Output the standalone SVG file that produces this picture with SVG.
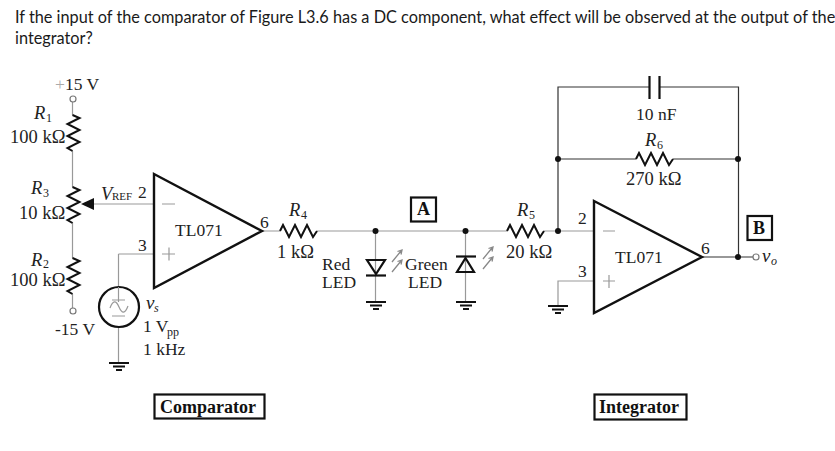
<svg xmlns="http://www.w3.org/2000/svg" width="835" height="451" viewBox="0 0 835 451">
<style>
.t{font-family:"Liberation Serif","Times New Roman",serif;font-size:17.500px;fill:#222}
.k{font-size:18.500px}
.s{font-size:12px}
.r{font-size:11px}
.i{font-style:italic}
.v{font-size:19px}
.b{font-weight:bold;font-size:18px;fill:#111}
.q{font-family:Lato,"Open Sans",sans-serif;font-size:16.300px;fill:#1a1a1a}
.w{fill:none;stroke:#999;stroke-width:1.200}
.d{fill:none;stroke:#333;stroke-width:1.200}
.z{fill:none;stroke:#111;stroke-width:2}
.amp{fill:#fff;stroke:#111;stroke-width:2.400;stroke-linejoin:miter}
.box{fill:#fff;stroke:#111;stroke-width:2.200}
.dot{fill:#111}
.oc{fill:#fff;stroke:#777;stroke-width:1.200}
.led{fill:none;stroke:#888;stroke-width:1.300}
</style>
<defs>
<g id="gnd"><path d="M-10 0H10M-6 3.500H6M-3 7H3" fill="none" stroke="#111" stroke-width="1.800"/></g>
<polyline id="rv" points="0,0 7,3 -5,9 7,15 -5,21 7,27 -5,33 0,36" class="z"/>
<polyline id="rh" points="0,0 3,-6 9,6 15,-6 21,6 27,-6 33,6 37,0" class="z"/>
<g id="rays"><path d="M0 12L9 1M5.500 1.500L10 0L9 4.500M0 22L9 11M5.500 11.500L10 10L9 14.500" class="led"/></g>
</defs>

<g id="question">
<text class="q" x="15" y="23">If the input of the comparator of Figure L3.6 has a DC component, what effect will be observed at the output of the</text>
<text class="q" x="15" y="44">integrator?</text>
</g>

<g id="connectors">
<path class="w" d="M72.500 102V115M72.500 151V187M72.500 222V258M72.500 294V308"/>
<path class="w" d="M86 204H154M118.500 254H154M118.500 254V287M118.500 327V362"/>
<path class="w" d="M262 231H280M317 231H507M375.500 231V301M465.500 231V301M544 231H594"/>
<path class="d" d="M558 231V87H649M659 87H738.500V257M558 159H636M673 159H738.500M702 257H753"/>
<path class="w" d="M594 281H558V306"/>
</g>

<g id="supply-pos"><text class="t" x="55" y="90"><tspan fill="#aaa">+</tspan>15 V</text><circle class="oc" cx="73" cy="99" r="3"/></g>
<g id="r1"><use href="#rv" x="72.500" y="115"/><text class="t i k" x="34" y="119">R</text><text class="t s" x="46" y="122">1</text><text class="t k" x="10" y="143">100 kΩ</text></g>
<g id="r3"><use href="#rv" x="72.500" y="187"/><text class="t i k" x="31" y="194">R</text><text class="t s" x="43" y="197">3</text><text class="t k" x="19" y="219">10 kΩ</text>
<path d="M81 204L94 198V210Z" fill="#111"/>
<text class="t i k" x="101" y="200">V</text><text class="t r" x="112" y="200">REF</text><text class="t" x="138" y="198">2</text></g>
<g id="r2"><use href="#rv" x="72.500" y="258"/><text class="t i k" x="31" y="266">R</text><text class="t s" x="43" y="268">2</text><text class="t k" x="10" y="286">100 kΩ</text></g>
<g id="supply-neg"><circle class="oc" cx="73" cy="311" r="3"/><text class="t" x="55" y="335">-15 V</text></g>

<g id="comparator"><polygon class="amp" points="154,174 262,231 154,288"/>
<path class="w" d="M162 204H175M162 254H175M169 247.500V260.500"/>
<text class="t" x="175" y="236">TL071</text><text class="t" x="138" y="251">3</text><text class="t" x="260" y="228">6</text></g>

<g id="source"><circle cx="119" cy="307" r="20" fill="#fff" stroke="#111" stroke-width="2.200"/>
<path class="w" d="M118.500 287V302M112 300H125M112 316H125M110 308C113 300 116 300 119 307C122 314 125 314 128 306"/>
<text class="t i v" x="146" y="309">v</text><text class="t i s" x="154" y="312">s</text>
<text class="t" x="143" y="332">1 V</text><text class="t s" x="167" y="336">pp</text><text class="t" x="143" y="355">1 kHz</text></g>
<g id="gnd1"><use href="#gnd" x="119" y="363"/></g>
<g id="label-comparator"><rect class="box" x="154.500" y="394.500" width="110" height="24"/><text class="t b" x="160" y="413">Comparator</text></g>

<g id="r4"><use href="#rh" x="280" y="231"/><text class="t i k" x="289" y="216">R</text><text class="t s" x="301" y="219">4</text><text class="t k" x="277" y="258">1 kΩ</text></g>
<g id="node-a"><circle class="dot" cx="375.500" cy="231" r="3"/><rect class="box" x="411" y="197.500" width="25" height="24"/><text class="t b" x="417" y="215">A</text></g>
<g id="red-led"><path d="M367 260H385L376 274Z" fill="none" stroke="#111" stroke-width="2.200"/><path d="M366 275.500H386" stroke="#111" stroke-width="2.200"/><use href="#rays" x="392" y="250"/><text class="t" x="322" y="270">Red</text><text class="t" x="322" y="288">LED</text><use href="#gnd" x="376" y="302"/></g>
<g id="green-led"><circle class="dot" cx="465.500" cy="231" r="3"/><path d="M465.500 258L457 272H474Z" fill="none" stroke="#111" stroke-width="2.200"/><path d="M456 256.500H476" stroke="#111" stroke-width="2.200"/><use href="#rays" x="483" y="247"/><text class="t" x="405" y="270">Green</text><text class="t" x="408" y="288">LED</text><use href="#gnd" x="466" y="302"/></g>
<g id="r5"><use href="#rh" x="507" y="231"/><text class="t i k" x="517" y="216">R</text><text class="t s" x="529" y="219">5</text><text class="t k" x="506" y="258">20 kΩ</text><circle class="dot" cx="558" cy="231" r="3"/></g>

<g id="c1"><path d="M649.500 76V99M659.500 76V99" stroke="#111" stroke-width="2.200"/><text class="t" x="636" y="120">10 nF</text></g>
<g id="r6"><use href="#rh" x="636" y="159"/><text class="t i k" x="645" y="146">R</text><text class="t s" x="657" y="149">6</text><text class="t k" x="626" y="185">270 kΩ</text><circle class="dot" cx="558" cy="159" r="3"/><circle class="dot" cx="738" cy="159" r="3"/></g>

<g id="integrator"><polygon class="amp" points="594,201 702,257 594,313"/>
<path class="w" d="M603 231H615M603 281H615M609 275V288"/>
<text class="t" x="615" y="263">TL071</text><text class="t" x="578" y="224">2</text><text class="t" x="578" y="277">3</text><text class="t" x="701" y="254">6</text></g>
<g id="gnd2"><use href="#gnd" x="558" y="306"/></g>
<g id="output"><circle class="dot" cx="738" cy="257" r="3"/><circle class="oc" cx="756" cy="257" r="3"/><text class="t i v" x="762" y="262">v</text><text class="t i s" x="771" y="265">o</text>
<rect class="box" x="747.500" y="216" width="24.500" height="24"/><text class="t b" x="753" y="234">B</text></g>
<g id="label-integrator"><rect class="box" x="594.500" y="394.500" width="92" height="25"/><text class="t b" x="599" y="413">Integrator</text></g>
</svg>
